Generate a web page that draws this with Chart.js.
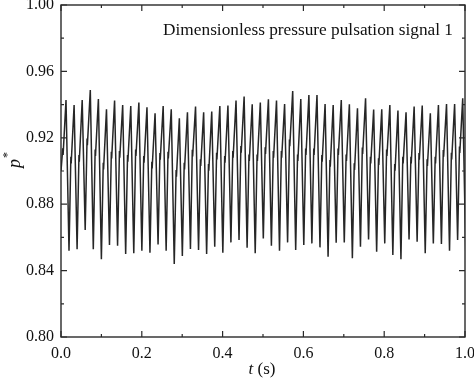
<!DOCTYPE html>
<html>
<head>
<meta charset="utf-8">
<script src="https://cdn.jsdelivr.net/npm/chart.js@4/dist/chart.umd.min.js"></script>
<style>
html,body{margin:0;padding:0;background:#fff;}
#wrap{width:474px;height:379px;position:relative;}
</style>
</head>
<body>
<div id="wrap"><canvas id="c" width="474" height="379"></canvas></div>
<script>
// ---- data ----
const xTickLabels = ['0.0','0.2','0.4','0.6','0.8','1.0'];
const yTickLabels = ['0.80','0.84','0.88','0.92','0.96','1.00'];
const chartTitle = 'Dimensionless pressure pulsation signal 1';
const cyclePeriod = 0.02004;   // s, one pulsation cycle
const firstPeakTime = 0.0124;  // s
const startValue = 0.900;
// value of each peak (50 cycles)
const peakValues = [
 0.9428,0.9398,0.9428,0.9488,0.9434,0.9372,0.9424,0.9398,0.9392,0.9412,
 0.9384,0.9348,0.9392,0.9372,0.9318,0.9354,0.9388,0.9354,0.9358,0.9392,
 0.9394,0.9424,0.9448,0.9402,0.9412,0.9432,0.9424,0.9404,0.9482,0.9434,
 0.9458,0.9458,0.9404,0.9398,0.9428,0.9402,0.9378,0.9438,0.9370,0.9372,
 0.9398,0.9364,0.9354,0.9388,0.9394,0.9348,0.9398,0.9404,0.9404,0.9438];
// trough following each peak
const troughValues = [
 0.8520,0.8528,0.8645,0.8528,0.8468,0.8554,0.8550,0.8500,0.8504,0.8520,
 0.8508,0.8558,0.8520,0.8440,0.8488,0.8530,0.8524,0.8500,0.8544,0.8508,
 0.8570,0.8584,0.8538,0.8504,0.8594,0.8550,0.8520,0.8570,0.8524,0.8554,
 0.8564,0.8540,0.8484,0.8568,0.8570,0.8474,0.8544,0.8588,0.8514,0.8564,
 0.8494,0.8468,0.8588,0.8574,0.8504,0.8564,0.8560,0.8520,0.8584,0.8520];
// small shoulder on the rising edge before each peak
const kinkValues = [
 0.9116,0.9066,0.9076,0.9176,0.9110,0.9030,0.9096,0.9100,0.9076,0.9110,
 0.9070,0.9036,0.9088,0.9096,0.8986,0.9030,0.9108,0.9050,0.9022,0.9090,
 0.9070,0.9100,0.9130,0.9080,0.9080,0.9123,0.9100,0.9100,0.9170,0.9080,
 0.9116,0.9116,0.9076,0.9046,0.9116,0.9080,0.9026,0.9122,0.9066,0.9056,
 0.9110,0.9022,0.9066,0.9066,0.9088,0.9050,0.9066,0.9106,0.9090,0.9128];

// ---- build the series ----
const series = [{x:0, y:startValue}];
for (let k = 0; k < peakValues.length; k++) {
  const tp = firstPeakTime + k * cyclePeriod;
  series.push({x: tp - 0.40*cyclePeriod, y: kinkValues[k] + 0.002});
  series.push({x: tp - 0.36*cyclePeriod, y: kinkValues[k] - 0.002});
  series.push({x: tp, y: peakValues[k]});
  series.push({x: tp + 0.37*cyclePeriod, y: troughValues[k]});
}

const SERIF = '"Liberation Serif", "Times New Roman", serif';

const framePlugin = {
  id: 'frame',
  afterDatasetsDraw(chart) {
    const ctx = chart.ctx, a = chart.chartArea;
    const xs = chart.scales.x, ys = chart.scales.y;
    ctx.save();
    ctx.strokeStyle = '#2a2a2a';
    ctx.lineWidth = 1.4;
    ctx.strokeRect(a.left, a.top, a.right - a.left, a.bottom - a.top);
    const maj = 6, min = 3;
    ctx.lineWidth = 1.2;
    ctx.beginPath();
    for (let i = 0; i <= 10; i++) {
      const v = i / 10;
      const px = xs.getPixelForValue(v);
      const L = (i % 2 === 0) ? maj : min;
      ctx.moveTo(px, a.bottom); ctx.lineTo(px, a.bottom - L);
      ctx.moveTo(px, a.top); ctx.lineTo(px, a.top + L);
    }
    for (let i = 0; i <= 10; i++) {
      const v = 0.8 + i * 0.02;
      const py = ys.getPixelForValue(v);
      const L = (i % 2 === 0) ? maj : min;
      ctx.moveTo(a.left, py); ctx.lineTo(a.left + L, py);
      ctx.moveTo(a.right, py); ctx.lineTo(a.right - L, py);
    }
    ctx.stroke();

    // title inside plot
    ctx.fillStyle = '#111';
    let fs = 16;
    ctx.font = fs + 'px ' + SERIF;
    const w = ctx.measureText(chartTitle).width;
    fs = fs * 290 / w;
    ctx.font = fs.toFixed(2) + 'px ' + SERIF;
    ctx.textAlign = 'right';
    ctx.textBaseline = 'alphabetic';
    ctx.fillText(chartTitle, 453, 35);

    // x axis title: t (s)
    ctx.textAlign = 'left';
    ctx.font = 'italic 17px ' + SERIF;
    const tW = ctx.measureText('t').width;
    ctx.font = '17px ' + SERIF;
    const sW = ctx.measureText(' (s)').width;
    const x0 = 262 - (tW + sW) / 2;
    ctx.font = 'italic 17px ' + SERIF;
    ctx.fillText('t', x0, 374);
    ctx.font = '17px ' + SERIF;
    ctx.fillText(' (s)', x0 + tW, 374);

    // y axis title: p*
    ctx.save();
    ctx.translate(20, 168);
    ctx.rotate(-Math.PI / 2);
    ctx.font = 'italic 18px ' + SERIF;
    ctx.fillText('p', 0, 0);
    const pW = ctx.measureText('p').width;
    ctx.font = '12px ' + SERIF;
    ctx.fillText('*', pW + 1, -9);
    ctx.restore();
    ctx.restore();
  }
};

function noPad(s) { s.paddingLeft = 0; s.paddingRight = 0; s.paddingTop = 0; s.paddingBottom = 0; }

new Chart(document.getElementById('c'), {
  type: 'line',
  data: {
    datasets: [{
      data: series,
      borderColor: '#262626',
      borderWidth: 1.5,
      pointRadius: 0,
      tension: 0,
      fill: false
    }]
  },
  options: {
    responsive: false,
    animation: false,
    parsing: false,
    layout: {padding: {top: 5, right: 9, left: 0, bottom: 0}},
    plugins: {legend: {display: false}, tooltip: {enabled: false}, title: {display: false}},
    scales: {
      x: {
        type: 'linear', min: 0, max: 1,
        grid: {display: false, drawTicks: false},
        border: {display: false},
        afterFit(s) { s.height = 42; noPad(s); },
        ticks: {
          stepSize: 0.2, padding: 7, maxRotation: 0, autoSkip: false,
          color: '#111', font: {family: SERIF, size: 16},
          callback: (v) => { const i = Math.round(v / 0.2); return (Math.abs(v - i*0.2) < 1e-6) ? xTickLabels[i] : ''; }
        }
      },
      y: {
        type: 'linear', min: 0.8, max: 1.0,
        grid: {display: false, drawTicks: false},
        border: {display: false},
        afterFit(s) { s.width = 61; noPad(s); },
        ticks: {
          stepSize: 0.04, padding: 7, autoSkip: false,
          color: '#111', font: {family: SERIF, size: 16},
          callback: (v) => { const i = Math.round((v - 0.8) / 0.04); return (Math.abs(v - 0.8 - i*0.04) < 1e-6) ? yTickLabels[i] : ''; }
        }
      }
    }
  },
  plugins: [framePlugin]
});
</script>
</body>
</html>
